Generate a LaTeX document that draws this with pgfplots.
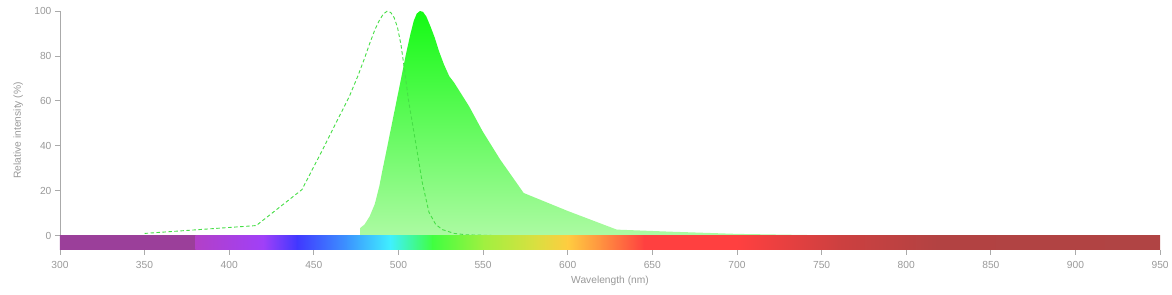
\documentclass[border=0pt]{standalone}
\usepackage{pgfplots}
\pgfplotsset{compat=1.18}
\usepackage{fontspec}
\setmainfont{Liberation Sans}
\definecolor{c300}{RGB}{155,63,154}
\definecolor{c381}{RGB}{178,64,200}
\definecolor{c420}{RGB}{160,64,248}
\definecolor{c440}{RGB}{64,56,255}
\definecolor{c470}{RGB}{60,150,255}
\definecolor{c495}{RGB}{64,240,255}
\definecolor{c520}{RGB}{64,255,64}
\definecolor{c550}{RGB}{160,240,64}
\definecolor{c580}{RGB}{216,224,64}
\definecolor{c600}{RGB}{255,204,64}
\definecolor{c620}{RGB}{255,144,64}
\definecolor{c645}{RGB}{255,64,64}
\definecolor{c700}{RGB}{255,64,64}
\definecolor{c760}{RGB}{205,64,64}
\definecolor{c820}{RGB}{178,66,66}
\definecolor{c950}{RGB}{176,68,68}
\definecolor{txtgray}{RGB}{153,153,153}
\definecolor{axgray}{RGB}{170,170,170}
\definecolor{dashgreen}{RGB}{70,222,70}
\definecolor{emtop}{RGB}{20,250,20}
\definecolor{embot}{RGB}{172,250,162}
\newcommand{\seg}[4]{\addplot[draw=none, left color=#3, right color=#4, forget plot] coordinates {(#1,0) (#2,0) (#2,-6.2) (#1,-6.2)} -- cycle;}
\begin{document}
\begin{tikzpicture}
\begin{axis}[
  scale only axis, width=1102bp, height=239bp,
  xmin=300, xmax=950, ymin=-6.2, ymax=100,
  axis lines*=left,
  axis line style={axgray, line width=0.8bp},
  xtick={300,350,...,950}, ytick={0,20,...,100},
  tick align=outside, major tick length=5bp,
  tick style={axgray, line width=0.8bp},
  /pgf/number format/assume math mode=true,
  /pgf/number format/1000 sep={},
  ticklabel style={font=\fontsize{10.3}{12}\selectfont, text=txtgray},
  xticklabel style={yshift=-3bp},
  xlabel={Wavelength (nm)}, ylabel={Relative intensity (\%)},
  xlabel style={at={(axis description cs:0.5,0)}, anchor=center, yshift=-31bp, font=\fontsize{10.3}{12}\selectfont, text=txtgray},
  ylabel style={at={(axis description cs:-0.038,0.5)}, anchor=center, rotate=0, font=\fontsize{10.3}{12}\selectfont, text=txtgray},
  clip=false,
]
% emission
\addplot[draw=none, top color=emtop, bottom color=embot] coordinates {
(477.5,0) (477.5,3.5) (480,5) (483,8.6) (486,14) (488.7,22) (490.5,29) (492.7,37)
(496.6,51.5) (500.5,66) (504.5,81) (507,89.5) (509,95.5) (510.8,98.8) (512.7,100) (514.5,99.6)
(516.5,97.5) (519,93) (521.5,88) (524,82) (527,76) (530,71) (533,68) (541.8,57.5) (549.7,46.5) (560,34)
(574,19) (600,11) (629,2.7) (660,1.8) (700,0.8) (750,0.2) (800,0)
} -- cycle;
% excitation
\addplot[dashgreen, line width=0.9bp, dash pattern=on 3.5bp off 2.5bp] coordinates {
(350,1) (416,4.5) (443,20.5) (455,38) (465,53) (471,62) (476,71) (480,79) (483,85.5)
(486,91.5) (488.5,95.5) (491,98.6) (493.5,100) (495.5,99.3) (497.5,97) (499.5,92.5) (501.5,85) (503,77) (506,60) (510.5,40)
(514,24) (518,10.5) (522,5) (526,2.7) (533,1) (540,0.4) (560,0) (950,0)
};
% spectrum bar
\seg{300}{380.5}{c300}{c300}
\seg{380}{420.5}{c381}{c420}
\seg{420}{440.5}{c420}{c440}
\seg{440}{470.5}{c440}{c470}
\seg{470}{495.5}{c470}{c495}
\seg{495}{520.5}{c495}{c520}
\seg{520}{550.5}{c520}{c550}
\seg{550}{580.5}{c550}{c580}
\seg{580}{600.5}{c580}{c600}
\seg{600}{620.5}{c600}{c620}
\seg{620}{645.5}{c620}{c645}
\seg{645}{700.5}{c645}{c700}
\seg{700}{760.5}{c700}{c760}
\seg{760}{820.5}{c760}{c820}
\seg{820}{950}{c820}{c950}
\end{axis}
\path ([xshift=-60bp,yshift=-45bp]current axis.south west) rectangle ([xshift=10bp,yshift=11bp]current axis.north east);
\end{tikzpicture}
\end{document}
